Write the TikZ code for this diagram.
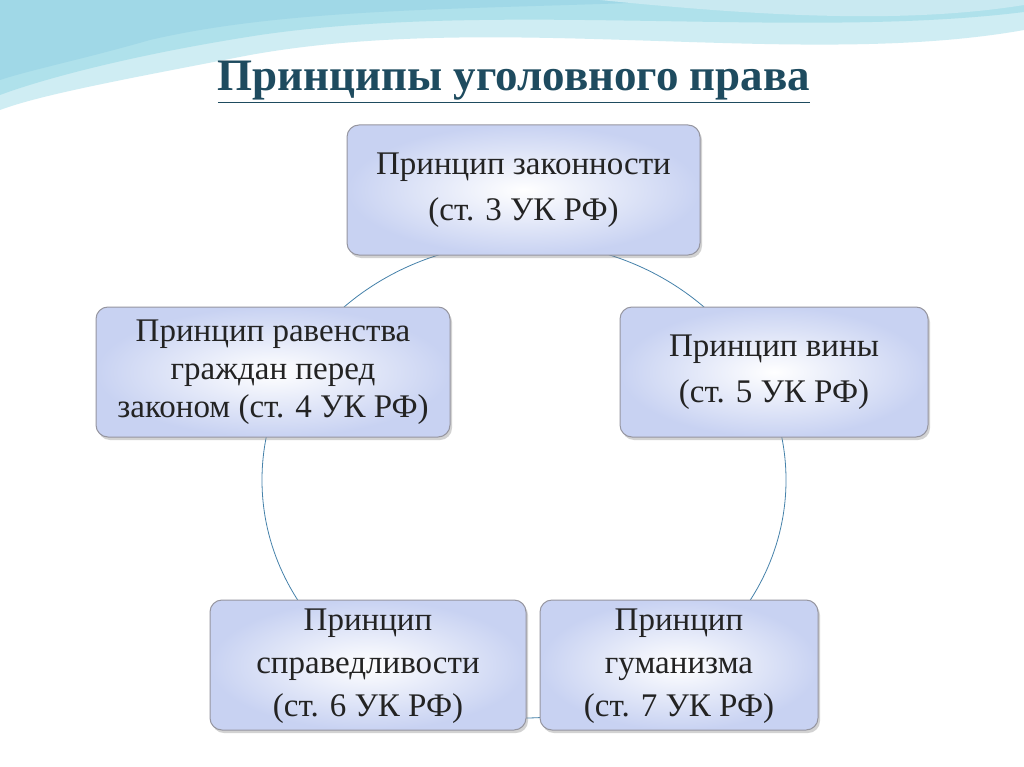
\documentclass[tikz,border=0pt]{standalone}
\usepackage{fontspec}
\setmainfont{Liberation Serif}
\usetikzlibrary{shadows}
\definecolor{edge}{RGB}{150,150,160}
\definecolor{boxout}{RGB}{200,210,242}
\definecolor{ring}{RGB}{70,130,170}
\definecolor{ttl}{RGB}{30,75,95}
\definecolor{wave1}{RGB}{175,225,235}
\definecolor{wave2}{RGB}{120,200,220}
\definecolor{txt}{RGB}{35,35,35}
\tikzset{
  pbox/.style={draw=edge, line width=1pt, rounded corners=12pt, inner color=white, outer color=boxout,
    drop shadow={shadow xshift=2pt, shadow yshift=-3pt, opacity=0.35}},
  ptext/.style={text=txt, align=center, font=\fontsize{33}{46}\selectfont},
}
\begin{document}
\begin{tikzpicture}[x=1pt,y=-1pt]
\useasboundingbox (0,0) rectangle (1024,767);
\fill[white] (0,0) rectangle (1024,767);
% waves
\fill[wave1!60] (0,0) -- (1024,0) -- (1024,30) .. controls (800,70) and (500,10) .. (250,55) .. controls (120,80) and (40,95) .. (0,110) -- cycle;
\fill[wave1] (0,0) -- (1024,0) -- (1024,12) .. controls (800,40) and (500,0) .. (260,35) .. controls (130,55) and (40,80) .. (0,95) -- cycle;
\fill[wave2!70] (0,0) -- (700,0) .. controls (500,10) and (300,5) .. (150,40) .. controls (80,60) and (30,70) .. (0,80) -- cycle;
\fill[wave2!40] (600,0) -- (1024,0) -- (1024,5) .. controls (900,25) and (750,15) .. (600,0) -- cycle;
% title
\node[font=\fontsize{45}{48}\selectfont\bfseries, text=ttl] (title) at (514,82) {\underline{Принципы уголовного права}};
% ring
\draw[ring, line width=0.8pt] (524,480) ellipse [x radius=262, y radius=238];
% boxes
\path[pbox] (347,125) rectangle (700,255);
\node[ptext] (b1) at (523.5,190) {Принцип законности\\(ст. 3 УК РФ)};
\path[pbox] (96,307) rectangle (450,437);
\node[ptext, font=\fontsize{33}{38}\selectfont] (b2) at (273,372) {Принцип равенства\\граждан перед\\законом (ст. 4 УК РФ)};
\path[pbox] (620,307) rectangle (928,437);
\node[ptext] (b3) at (774,372) {Принцип вины\\(ст. 5 УК РФ)};
\path[pbox] (210,600) rectangle (526,730);
\node[ptext, font=\fontsize{33}{43}\selectfont] (b4) at (368,666) {Принцип\\справедливости\\(ст. 6 УК РФ)};
\path[pbox] (540,600) rectangle (818,730);
\node[ptext, font=\fontsize{33}{43}\selectfont] (b5) at (679,666) {Принцип\\гуманизма\\(ст. 7 УК РФ)};
\end{tikzpicture}
\end{document}
